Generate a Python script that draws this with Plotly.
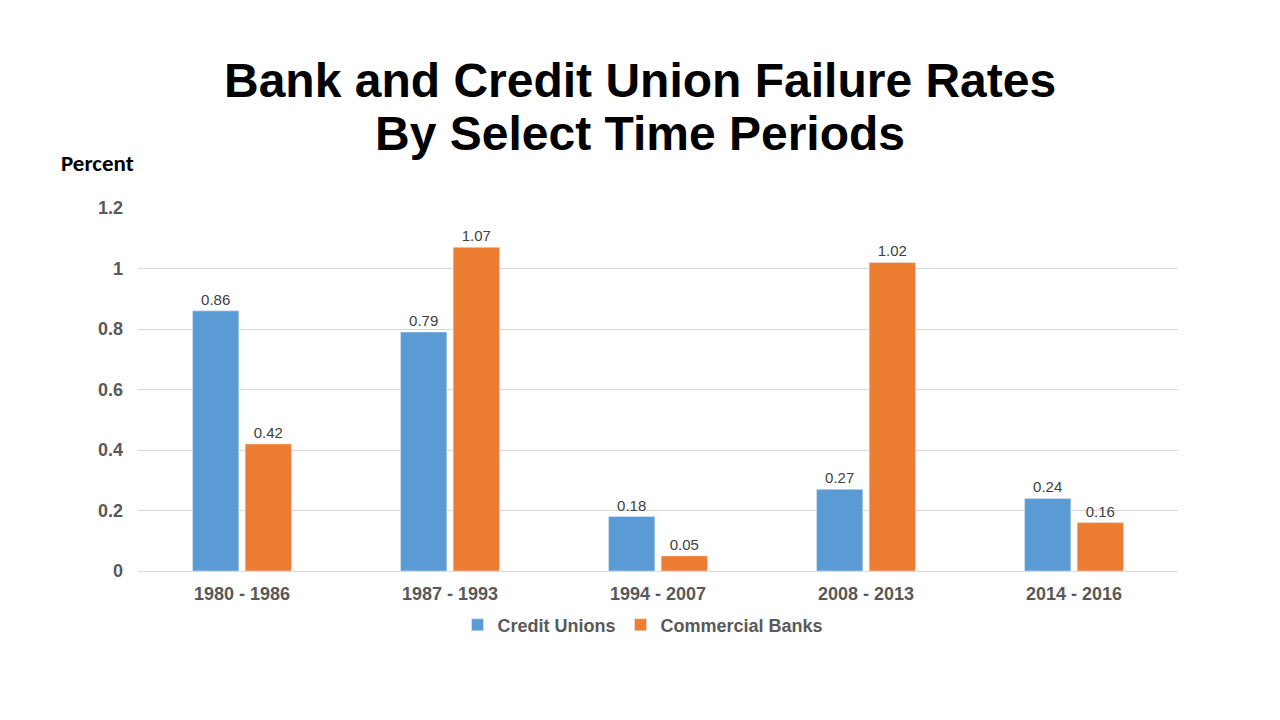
import plotly.graph_objects as go

# Data
periods = ["1980 - 1986", "1987 - 1993", "1994 - 2007", "2008 - 2013", "2014 - 2016"]
credit_unions = [0.86, 0.79, 0.18, 0.27, 0.24]
commercial_banks = [0.42, 1.07, 0.05, 1.02, 0.16]
y_ticks = [0, 0.2, 0.4, 0.6, 0.8, 1, 1.2]
title_lines = ["Bank and Credit Union Failure Rates", "By Select Time Periods"]

label_font = dict(family="Liberation Sans, Arial", size=15, color="#404040")
tick_font = dict(family="Liberation Sans Narrow, Liberation Sans, Arial", size=18,
                 color="#595959", weight="bold")

fig = go.Figure()
fig.add_trace(go.Bar(
    x=periods, y=credit_unions, name="Credit Unions",
    marker_color="#5B9BD5",
    text=[f"{v:g}" for v in credit_unions], textposition="outside",
    textfont=label_font, cliponaxis=False,
))
fig.add_trace(go.Bar(
    x=periods, y=commercial_banks, name="Commercial Banks",
    marker_color="#ED7D31",
    text=[f"{v:g}" for v in commercial_banks], textposition="outside",
    textfont=label_font, cliponaxis=False,
))

fig.update_layout(
    width=1280, height=720,
    paper_bgcolor="white", plot_bgcolor="white",
    margin=dict(l=130, r=110, t=200, b=157),
    barmode="group", bargap=0.494, bargroupgap=0.12,
    legend=dict(
        orientation="h", x=0.4856, xanchor="center", y=-0.149, yanchor="middle",
        font=dict(family="Liberation Sans Narrow, Liberation Sans, Arial", size=18,
                  color="#595959", weight="bold"),
        itemwidth=30, traceorder="normal",
    ),
    showlegend=True,
)

# Title as two annotations to match the tight line spacing
for text, ypos in zip(title_lines, [1.3526, 1.2066]):
    fig.add_annotation(
        text=text, xref="paper", yref="paper", x=0.4827, y=ypos,
        xanchor="center", yanchor="middle", showarrow=False,
        font=dict(family="Liberation Sans, Arial", size=48, color="black", weight="bold"),
    )

fig.update_xaxes(
    showgrid=False, showline=True, linecolor="#d9d9d9", linewidth=1,
    ticks="", ticklabelstandoff=6, tickfont=tick_font,
)
fig.update_yaxes(
    range=[0, 1.2], tickvals=y_ticks, ticktext=[f"{v:g}" for v in y_ticks],
    showgrid=True, gridcolor="#d9d9d9", gridwidth=1, zeroline=False,
    ticks="", ticklabelstandoff=14, tickfont=tick_font,
)

fig.add_annotation(
    text="Percent", xref="paper", yref="paper", x=-0.076, y=1.124,
    xanchor="left", yanchor="middle", showarrow=False,
    font=dict(family="Carlito, Lato, Liberation Sans, Arial", size=23, color="black", weight="bold"),
)

fig.write_html("out.html")
